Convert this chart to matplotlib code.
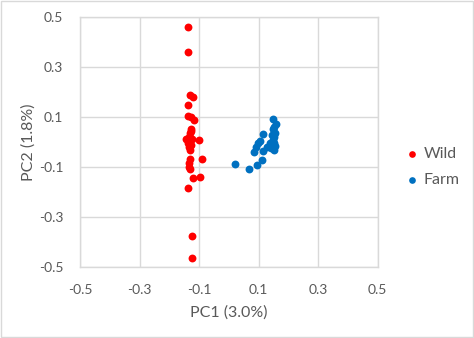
import matplotlib
matplotlib.use("Agg")
import matplotlib.pyplot as plt
from matplotlib.patches import Rectangle

wild_x = [-0.139, -0.138, -0.130, -0.119, -0.137, -0.138, -0.127, -0.116, -0.127, -0.130,
          -0.133, -0.144, -0.125, -0.101, -0.136, -0.133, -0.130, -0.130, -0.089, -0.133,
          -0.133, -0.130, -0.122, -0.096, -0.139, -0.123, -0.124, -0.128, -0.135, -0.126]
wild_y = [0.459, 0.363, 0.191, 0.183, 0.151, 0.107, 0.100, 0.089, 0.055, 0.036,
          0.023, 0.012, 0.012, 0.009, -0.004, -0.017, -0.031, -0.067, -0.067, -0.084,
          -0.097, -0.105, -0.144, -0.137, -0.184, -0.373, -0.464, 0.045, 0.000, -0.010]

farm_x = [0.020, 0.066, 0.096, 0.111, 0.085, 0.091, 0.099, 0.105, 0.116, 0.116,
          0.127, 0.138, 0.147, 0.158, 0.147, 0.155, 0.152, 0.147, 0.152, 0.147,
          0.152, 0.141, 0.155, 0.150, 0.145]
farm_y = [-0.088, -0.108, -0.089, -0.072, -0.037, -0.017, -0.001, 0.007, 0.032, -0.033,
          -0.017, -0.004, 0.092, 0.073, 0.052, 0.039, 0.023, 0.009, -0.004, -0.017,
          -0.031, -0.024, -0.015, 0.062, 0.030]

ticks = [-0.5, -0.3, -0.1, 0.1, 0.3, 0.5]
tick_labels = ["-0.5", "-0.3", "-0.1", "0.1", "0.3", "0.5"]

plt.rcParams['font.family'] = ['Lato', 'DejaVu Sans']

fig = plt.figure(figsize=(4.74, 3.38), dpi=100)
fig.patches.append(Rectangle((0.002, 0.003), 0.996, 0.994, transform=fig.transFigure,
                             fill=False, edgecolor='#d9d9d9', linewidth=1))
ax = fig.add_axes([0.1688, 0.209, 0.6282, 0.740])

ax.scatter(wild_x, wild_y, s=32, color='#ff0000', label='Wild', zorder=3, linewidths=0)
ax.scatter(farm_x, farm_y, s=32, color='#0070c0', label='Farm', zorder=3, linewidths=0)

ax.set_xlim(-0.5, 0.5)
ax.set_ylim(-0.5, 0.5)
ax.set_xticks(ticks)
ax.set_xticklabels(tick_labels)
ax.set_yticks(ticks)
ax.set_yticklabels(tick_labels)
ax.grid(True, color='#d9d9d9', linewidth=1)
ax.set_axisbelow(True)
for s in ax.spines.values():
    s.set_color('#d9d9d9')
    s.set_linewidth(1)
ax.tick_params(length=0, labelsize=10, colors='#595959', pad=12)
ax.set_xlabel('PC1 (3.0%)', fontsize=11.5, color='#595959', labelpad=7)
ax.set_ylabel('PC2 (1.8%)', fontsize=11.5, color='#595959', labelpad=2)

leg = ax.legend(loc='center left', bbox_to_anchor=(1.035, 0.40), frameon=False,
                fontsize=11.5, labelcolor='#595959', handletextpad=0.1,
                markerscale=0.85, labelspacing=0.75, handlelength=1.2)

fig.savefig('out.png', dpi=100)
